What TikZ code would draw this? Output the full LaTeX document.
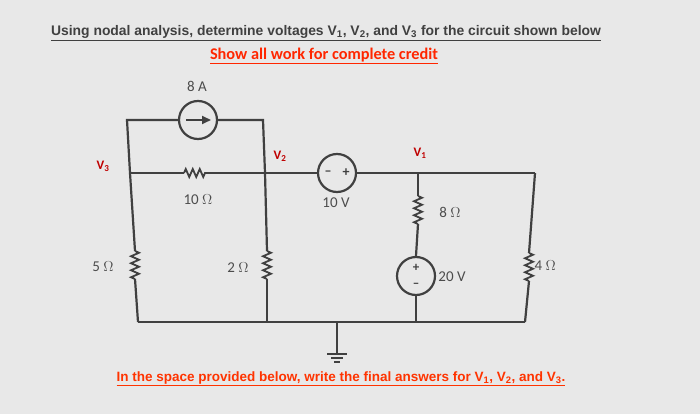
\documentclass[tikz,border=0pt]{standalone}
\usepackage{fontspec}
\setmainfont{Carlito}
\newfontfamily\arialf{Liberation Sans}
\usetikzlibrary{decorations.pathmorphing,arrows.meta}
\begin{document}
\begin{tikzpicture}[x=1pt,y=-1pt,
  wire/.style={line width=2.2pt,color=black!75},
  res/.style={line width=1.8pt,color=black!75,decorate,decoration={zigzag,amplitude=4pt,segment length=7pt,pre length=0pt,post length=0pt}},
  src/.style={circle,draw=black!75,line width=2.2pt,minimum size=38pt,inner sep=0pt},
  lab/.style={font=\fontsize{15}{15}\selectfont,text=black!70},
  vlab/.style={font=\bfseries\fontsize{13}{13}\selectfont,text=red!75!black}]
\fill[black!9] (0,0) rectangle (700,414);
\useasboundingbox (0,0) rectangle (700,414);
% texts
\node[font=\arialf\bfseries\fontsize{13.9}{13.9}\selectfont,text=black!75] (t1) at (326,33) {\underline{Using nodal analysis, determine voltages V\textsubscript{1}, V\textsubscript{2}, and V\textsubscript{3} for the circuit shown below}};
\node[font=\bfseries\fontsize{16.3}{16.3}\selectfont,text=red!70!orange] (t2) at (324,56) {\underline{Show all work for complete credit}};
\node[font=\arialf\bfseries\fontsize{13.5}{13.5}\selectfont,text=red!60!orange] (t3) at (341,379) {\underline{In the space provided below, write the final answers for V\textsubscript{1}, V\textsubscript{2}, and V\textsubscript{3}.}};
% coordinates
\coordinate (tl) at (127,120); \coordinate (tr) at (263,120);
\coordinate (ml) at (130,173); \coordinate (v2) at (265,173);
\coordinate (v1) at (418,173); \coordinate (mr) at (535,173);
\coordinate (bl) at (138,322); \coordinate (b2) at (267,322);
\coordinate (b1) at (416,322); \coordinate (br) at (525,322);
\coordinate (g) at (337,322); \coordinate (gb) at (337,354);
\node[src] (s8) at (198,120) {};
\node[src] (s10) at (337,173) {};
\node[src] (s20) at (416,276) {};
% top loop
\draw[wire] (ml) -- (tl) -- (s8.west);
\draw[wire] (s8.east) -- (tr) -- (v2);
\draw[wire,-{Triangle[length=9pt,width=8pt]}] ([xshift=-12pt]s8.center) -- ([xshift=13pt]s8.center);
% middle wire
\draw[wire] (ml) -- (184,173);
\draw[res] (184,173) -- (208,173);
\draw[wire] (208,173) -- (v2) -- (s10.west);
\draw[wire] (s10.east) -- (v1) -- (mr);
\node[font=\bfseries\fontsize{14}{14}\selectfont,text=black!75] (mn) at ([xshift=-9pt]s10.center) {\textendash};
\node[font=\bfseries\fontsize{14}{14}\selectfont,text=black!75] (pl) at ([xshift=9pt]s10.center) {+};
% left branch 5 ohm
\draw[wire] (ml) -- (135,251);
\draw[res] (135,251) -- (135,279);
\draw[wire] (135,279) -- (bl);
% 2 ohm
\draw[wire] (v2) -- (267,251);
\draw[res] (267,251) -- (267,279);
\draw[wire] (267,279) -- (b2);
% 8 ohm + 20V
\draw[wire] (v1) -- (418,196);
\draw[res] (418,196) -- (418,224);
\draw[wire] (418,224) -- (s20.north);
\draw[wire] (s20.south) -- (b1);
\node[font=\bfseries\fontsize{13}{13}\selectfont,text=black!75] (p20) at ([yshift=8pt]s20.center) {+};
\node[font=\bfseries\fontsize{13}{13}\selectfont,text=black!75] (m20) at ([yshift=-9pt]s20.center) {\textendash};
% 4 ohm
\draw[wire] (mr) -- (529,253);
\draw[res] (529,253) -- (529,281);
\draw[wire] (529,281) -- (br);
% bottom
\draw[wire] (bl) -- (br);
\draw[wire] (g) -- (gb);
\draw[wire] (327,354) -- (347,354);
\draw[wire] (331,358) -- (343,358);
\draw[wire] (334,362) -- (340,362);
% labels
\node[lab] (l8a) at (197,86) {8 A};
\node[lab] (l10) at (198,200) {10 $\Omega$};
\node[lab] (l10v) at (336,203) {10 V};
\node[lab] (l8o) at (450,212) {8 $\Omega$};
\node[lab] (l20) at (452,277) {20 V};
\node[lab] (l5) at (103,267) {5 $\Omega$};
\node[lab] (l2) at (238,268) {2 $\Omega$};
\node[lab,anchor=west] (l4) at (531,266) {4 $\Omega$};
\node[vlab] (n3) at (103,166) {V\textsubscript{3}};
\node[vlab] (n2) at (280,156) {V\textsubscript{2}};
\node[vlab] (n1) at (420,153) {V\textsubscript{1}};
\end{tikzpicture}
\end{document}
